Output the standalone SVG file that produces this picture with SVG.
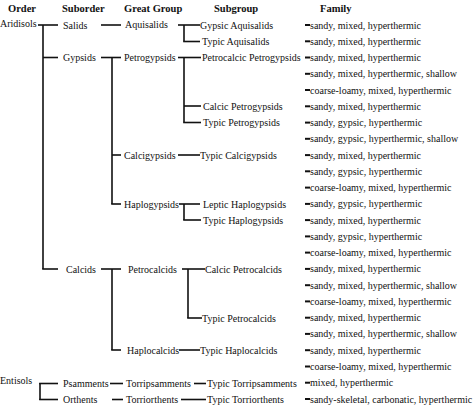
<svg xmlns="http://www.w3.org/2000/svg" width="474" height="415" viewBox="0 0 474 415">
<style>
text{font-family:"Liberation Serif","Times New Roman",serif;font-size:10px;fill:#111}
.h{font-weight:bold;font-size:10.5px}
.c line{stroke:#111;stroke-width:1.6;fill:none}
.c .d{stroke-width:2}
</style>
<rect width="474" height="415" fill="#fff"/>
<g id="headers">
<text class="h" x="8" y="12">Order</text>
<text class="h" x="62" y="12">Suborder</text>
<text class="h" x="124" y="12">Great Group</text>
<text class="h" x="214" y="12">Subgroup</text>
<text class="h" x="320" y="12">Family</text>
</g>
<g class="c" id="connectors">
<!-- Order to suborder -->
<line x1="38" y1="25" x2="58" y2="25"/>
<line x1="43" y1="25" x2="43" y2="269"/>
<line x1="43" y1="57.5" x2="58" y2="57.5"/>
<line x1="42.2" y1="269" x2="58" y2="269"/>
<line x1="40" y1="383" x2="40" y2="400"/>
<line x1="39.2" y1="383.5" x2="58" y2="383.5"/>
<line x1="39.2" y1="399.5" x2="58" y2="399.5"/>
<!-- Suborder to great group -->
<line x1="101" y1="25" x2="121" y2="25"/>
<line x1="101" y1="57.5" x2="121" y2="57.5"/>
<line x1="112" y1="57.5" x2="112" y2="204"/>
<line x1="112" y1="155" x2="121" y2="155"/>
<line x1="111.2" y1="204" x2="121" y2="204"/>
<line x1="101" y1="269" x2="121" y2="269"/>
<line x1="112" y1="269" x2="112" y2="350"/>
<line x1="111.2" y1="350" x2="121" y2="350"/>
<line x1="110" y1="383.5" x2="123" y2="383.5"/>
<line x1="112" y1="399.5" x2="123" y2="399.5"/>
<!-- Great group to subgroup -->
<line x1="178" y1="25" x2="200" y2="25"/>
<line x1="184" y1="25" x2="184" y2="41.5"/>
<line x1="183.2" y1="41.5" x2="200" y2="41.5"/>
<line x1="178" y1="57.5" x2="201" y2="57.5"/>
<line x1="184" y1="57.5" x2="184" y2="122.5"/>
<line x1="184" y1="106" x2="201" y2="106"/>
<line x1="183.2" y1="122.5" x2="201" y2="122.5"/>
<line x1="178" y1="155" x2="200" y2="155"/>
<line x1="179" y1="204" x2="200" y2="204"/>
<line x1="184" y1="204" x2="184" y2="220"/>
<line x1="183.2" y1="220" x2="201" y2="220"/>
<line x1="182" y1="269" x2="205" y2="269"/>
<line x1="188" y1="269" x2="188" y2="318"/>
<line x1="187.2" y1="318" x2="202" y2="318"/>
<line x1="179" y1="350" x2="200" y2="350"/>
<line x1="194" y1="383.5" x2="206" y2="383.5"/>
<line x1="181" y1="399.5" x2="206" y2="399.5"/>
<!-- Family dashes -->
<line class="d" x1="305" y1="25" x2="310" y2="25"/>
<line class="d" x1="305" y1="41.3" x2="310" y2="41.3"/>
<line class="d" x1="305" y1="57.5" x2="310" y2="57.5"/>
<line class="d" x1="305" y1="73.8" x2="310" y2="73.8"/>
<line class="d" x1="305" y1="90" x2="310" y2="90"/>
<line class="d" x1="305" y1="106.3" x2="310" y2="106.3"/>
<line class="d" x1="305" y1="122.6" x2="310" y2="122.6"/>
<line class="d" x1="305" y1="138.8" x2="310" y2="138.8"/>
<line class="d" x1="305" y1="155.1" x2="310" y2="155.1"/>
<line class="d" x1="305" y1="171.3" x2="310" y2="171.3"/>
<line class="d" x1="305" y1="187.6" x2="310" y2="187.6"/>
<line class="d" x1="305" y1="203.9" x2="310" y2="203.9"/>
<line class="d" x1="305" y1="220.1" x2="310" y2="220.1"/>
<line class="d" x1="305" y1="236.4" x2="310" y2="236.4"/>
<line class="d" x1="305" y1="252.6" x2="310" y2="252.6"/>
<line class="d" x1="305" y1="268.9" x2="310" y2="268.9"/>
<line class="d" x1="305" y1="285.2" x2="310" y2="285.2"/>
<line class="d" x1="305" y1="301.4" x2="310" y2="301.4"/>
<line class="d" x1="305" y1="317.7" x2="310" y2="317.7"/>
<line class="d" x1="305" y1="333.9" x2="310" y2="333.9"/>
<line class="d" x1="305" y1="350.2" x2="310" y2="350.2"/>
<line class="d" x1="305" y1="366.5" x2="310" y2="366.5"/>
<line class="d" x1="305" y1="382.7" x2="310" y2="382.7"/>
<line class="d" x1="305" y1="399" x2="310" y2="399"/>
</g>
<g id="order">
<text x="0" y="27">Aridisols</text>
<text x="0" y="384">Entisols</text>
</g>
<g id="suborder">
<text x="63" y="28.5">Salids</text>
<text x="63" y="61">Gypsids</text>
<text x="66" y="272.5">Calcids</text>
<text x="63" y="387">Psamments</text>
<text x="63" y="403">Orthents</text>
</g>
<g id="greatgroup">
<text x="125" y="28">Aquisalids</text>
<text x="124" y="60.5">Petrogypsids</text>
<text x="124" y="158.5">Calcigypsids</text>
<text x="124" y="207.5">Haplogypsids</text>
<text x="128" y="272.5">Petrocalcids</text>
<text x="127" y="353.5">Haplocalcids</text>
<text x="126" y="387">Torripsamments</text>
<text x="126" y="403">Torriorthents</text>
</g>
<g id="subgroup">
<text x="200" y="28.5">Gypsic Aquisalids</text>
<text x="202" y="45">Typic Aquisalids</text>
<text x="202" y="61">Petrocalcic Petrogypsids</text>
<text x="203" y="109.5">Calcic Petrogypsids</text>
<text x="203" y="126">Typic Petrogypsids</text>
<text x="200" y="158.5">Typic Calcigypsids</text>
<text x="203" y="207.5">Leptic Haplogypsids</text>
<text x="203" y="223.5">Typic Haplogypsids</text>
<text x="205" y="272.5">Calcic Petrocalcids</text>
<text x="202" y="321.5">Typic Petrocalcids</text>
<text x="200" y="353.5">Typic Haplocalcids</text>
<text x="207" y="387">Typic Torripsamments</text>
<text x="207" y="403">Typic Torriorthents</text>
</g>
<g id="family">
<text x="310" y="28.5">sandy, mixed, hyperthermic</text>
<text x="310" y="44.8">sandy, mixed, hyperthermic</text>
<text x="310" y="61">sandy, mixed, hyperthermic</text>
<text x="310" y="77.3">sandy, mixed, hyperthermic, shallow</text>
<text x="310" y="93.5">coarse-loamy, mixed, hyperthermic</text>
<text x="310" y="109.8">sandy, mixed, hyperthermic</text>
<text x="310" y="126.1">sandy, gypsic, hyperthermic</text>
<text x="310" y="142.3">sandy, gypsic, hyperthermic, shallow</text>
<text x="310" y="158.6">sandy, mixed, hyperthermic</text>
<text x="310" y="174.8">sandy, gypsic, hyperthermic</text>
<text x="310" y="191.1">coarse-loamy, mixed, hyperthermic</text>
<text x="310" y="207.4">sandy, gypsic, hyperthermic</text>
<text x="310" y="223.6">sandy, mixed, hyperthermic</text>
<text x="310" y="239.9">sandy, gypsic, hyperthermic</text>
<text x="310" y="256.1">coarse-loamy, mixed, hyperthermic</text>
<text x="310" y="272.4">sandy, mixed, hyperthermic</text>
<text x="310" y="288.7">sandy, mixed, hyperthermic, shallow</text>
<text x="310" y="304.9">coarse-loamy, mixed, hyperthermic</text>
<text x="310" y="321.2">sandy, mixed, hyperthermic</text>
<text x="310" y="337.4">sandy, mixed, hyperthermic, shallow</text>
<text x="310" y="353.7">sandy, mixed, hyperthermic</text>
<text x="310" y="370">coarse-loamy, mixed, hyperthermic</text>
<text x="310" y="386.2">mixed, hyperthermic</text>
<text x="310" y="402.5">sandy-skeletal, carbonatic, hyperthermic</text>
</g>
</svg>
